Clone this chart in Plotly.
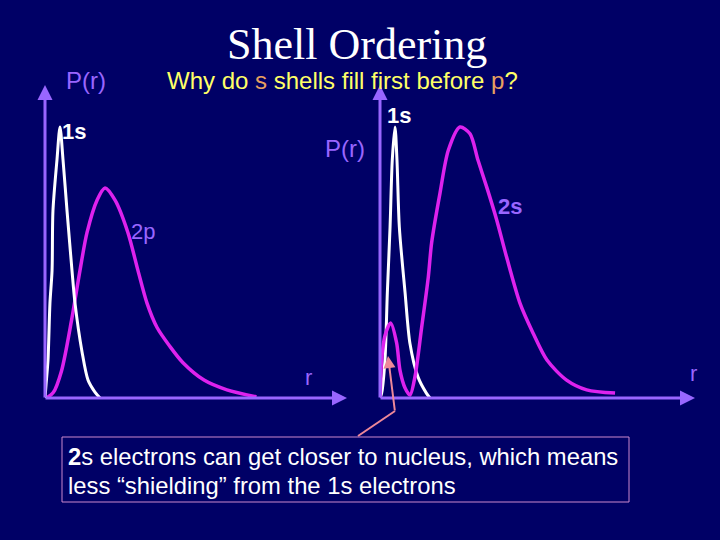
import plotly.graph_objects as go

W, H = 720, 540

# ---------------- data (arbitrary units) ----------------
# left panel: 1s and 2p radial probability
r_1s_left = [0.0, 0.07, 0.2, 0.33, 0.47, 0.53, 0.8, 1.0, 1.2, 1.47, 1.8, 2.0, 2.47, 2.87, 3.33, 3.67]
p_1s_left = [0.0, 0.05, 0.14, 0.35, 0.47, 0.69, 0.88, 1.0, 0.88, 0.69, 0.47, 0.35, 0.17, 0.066, 0.022, 0.0]

r_2p = [0.1, 0.55, 1.1, 1.78, 2.33, 2.8, 3.47, 4.0, 4.67, 5.53, 6.2, 6.8, 7.47, 8.33, 9.2, 10.6, 12.13, 14.1]
p_2p = [0.0, 0.02, 0.10, 0.29, 0.47, 0.61, 0.73, 0.775, 0.73, 0.61, 0.47, 0.35, 0.26, 0.19, 0.13, 0.066, 0.03, 0.004]

# right panel: 1s and 2s radial probability
r_1s_right = [0.0, 0.11, 0.33, 0.49, 0.67, 0.82, 1.0, 1.13, 1.29, 1.67, 2.0, 2.53, 3.09, 3.33]
p_1s_right = [0.0, 0.018, 0.14, 0.39, 0.63, 0.88, 1.0, 0.88, 0.63, 0.39, 0.2, 0.078, 0.018, 0.0]

r_2s = [0.0, 0.11, 0.33, 0.71, 1.11, 1.33, 1.67, 2.0, 2.33, 2.78, 3.22, 3.44, 4.0, 4.56, 5.33,
        6.0, 6.53, 7.11, 7.78, 8.44, 9.33, 10.2, 11.13, 12.44, 13.78, 15.67]
p_2s = [0.0, 0.14, 0.23, 0.277, 0.203, 0.103, 0.037, 0.011, 0.078, 0.262, 0.446, 0.572, 0.756, 0.915, 1.0,
        0.975, 0.878, 0.779, 0.657, 0.52, 0.35, 0.24, 0.14, 0.066, 0.03, 0.018]

# ---------------- styling ----------------
BG = "#000066"
LAV = "#9966FF"
MAG = "#DD22EE"
WHITE = "#FFFFFF"

def px(x):
    return x / W

def py(y):
    return 1 - y / H

fig = go.Figure()

# left panel
fig.add_trace(go.Scatter(x=r_2p, y=p_2p, mode="lines", line=dict(color=MAG, width=3.5, shape="spline", smoothing=0.8),
                         xaxis="x", yaxis="y", hoverinfo="skip"))
fig.add_trace(go.Scatter(x=r_1s_left, y=p_1s_left, mode="lines", line=dict(color=WHITE, width=3, shape="spline", smoothing=0.8),
                         xaxis="x", yaxis="y", hoverinfo="skip"))
# right panel
fig.add_trace(go.Scatter(x=r_1s_right, y=p_1s_right, mode="lines", line=dict(color=WHITE, width=3, shape="spline", smoothing=0.8),
                         xaxis="x2", yaxis="y2", hoverinfo="skip"))
fig.add_trace(go.Scatter(x=r_2s, y=p_2s, mode="lines", line=dict(color=MAG, width=3.5, shape="spline", smoothing=0.8),
                         xaxis="x2", yaxis="y2", hoverinfo="skip"))

ax_common = dict(showgrid=False, zeroline=False, showticklabels=False, showline=False, ticks="")
fig.update_layout(
    width=W, height=H,
    margin=dict(l=0, r=0, t=0, b=0),
    paper_bgcolor=BG, plot_bgcolor=BG,
    showlegend=False,
    xaxis=dict(domain=[px(45), px(347)], range=[0, 302 / 15], **ax_common),
    yaxis=dict(domain=[py(398), py(85)], range=[0, 313 / 271], **ax_common),
    xaxis2=dict(domain=[px(380), px(695)], range=[0, 315 / 15], anchor="y2", **ax_common),
    yaxis2=dict(domain=[py(398), py(85)], range=[0, 313 / 271], anchor="x2", **ax_common),
)

ann = []

def arrow(x_tip, y_tip, x_tail, y_tail, color, width=3, head=2, size=1.0):
    ann.append(dict(x=px(x_tip), y=py(y_tip), xref="paper", yref="paper",
                    ax=x_tail - x_tip, ay=y_tail - y_tip, axref="pixel", ayref="pixel",
                    showarrow=True, arrowhead=head, arrowsize=size, arrowwidth=width,
                    arrowcolor=color, text=""))

# axes with arrows
arrow(45, 85, 45, 399, LAV)
arrow(347, 398, 44, 398, LAV)
arrow(380, 85, 380, 399, LAV)
arrow(695, 398, 379, 398, LAV)

# pointer arrow from the text box
fig.add_shape(type="line", xref="paper", yref="paper", x0=px(358), y0=py(436), x1=px(395), y1=py(411),
              line=dict(color="#EE8899", width=2))
arrow(388, 356, 395, 412, "#EE8899", width=2, head=2, size=1.2)

def text(x, y, s, size=20, color=LAV, family="Liberation Sans, Arial, sans-serif", xanchor="center", yanchor="middle"):
    ann.append(dict(x=px(x), y=py(y), xref="paper", yref="paper", text=s, showarrow=False,
                    xanchor=xanchor, yanchor=yanchor,
                    font=dict(size=size, color=color, family=family)))

text(357, 44, "Shell Ordering", size=44, color=WHITE, family="Liberation Serif, Times New Roman, serif")
text(165, 80, 'Why do <span style="color:#E8A060">s</span> shells fill first before <span style="color:#E8A060">p</span>?',
     size=24, color="#FFFF66", xanchor="left")
text(86, 80, "P(r)", size=24)
text(74, 131, "<b>1s</b>", size=22, color=WHITE)
text(143, 232, "2p", size=22)
text(308, 377, "r", size=22)
text(345, 148, "P(r)", size=24)
text(399, 116, "<b>1s</b>", size=22, color=WHITE)
text(510, 206, "<b>2s</b>", size=22)
text(693, 373, "r", size=22)

# text box
fig.add_shape(type="rect", xref="paper", yref="paper", x0=px(62), y0=py(437), x1=px(629), y1=py(502),
              line=dict(color="#CC88CC", width=1))
text(66, 456, "<b>2</b>s electrons can get closer to nucleus, which means", size=23.8, color=WHITE, xanchor="left")
text(66, 485, "less \u201cshielding\u201d from the 1s electrons", size=23.8, color=WHITE, xanchor="left")

fig.update_layout(annotations=ann)
fig.write_html("out.html", config={"displayModeBar": False},
               post_script="document.body.style.margin='0';document.body.style.background='#000066';")
